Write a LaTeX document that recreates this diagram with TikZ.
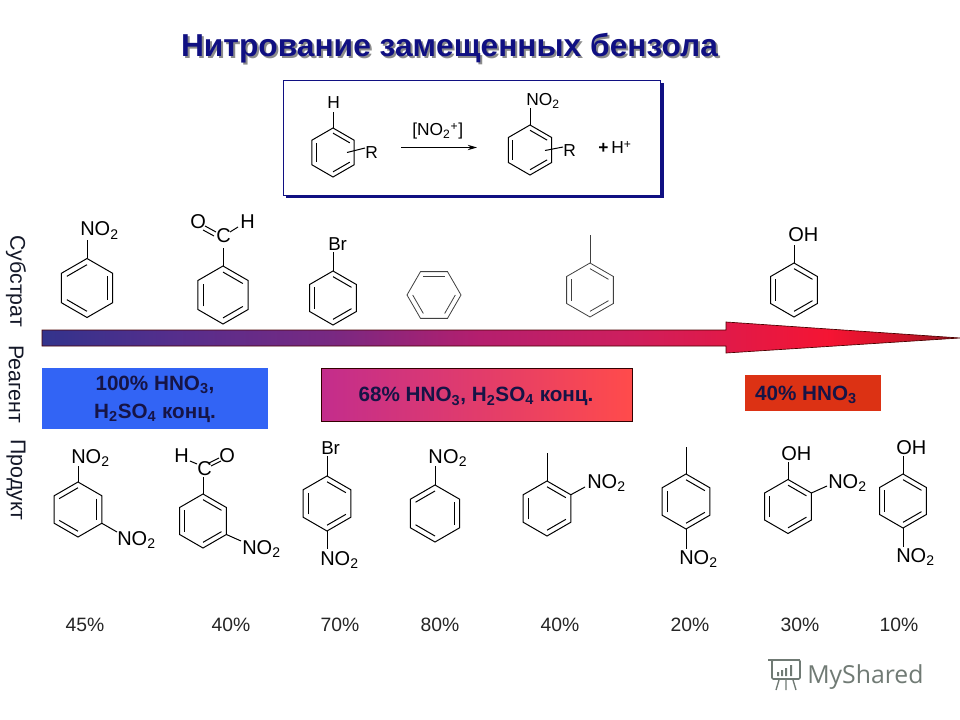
\documentclass[tikz,border=0pt]{standalone}
\usepackage{fontspec}
\setmainfont{Liberation Sans}
\newfontfamily\wmfont{Open Sans}
\usetikzlibrary{calc,arrows.meta}
\definecolor{ink}{RGB}{20,24,40}
\definecolor{navy}{RGB}{16,16,130}
\definecolor{boxtext}{RGB}{22,20,70}
\definecolor{wm}{RGB}{112,122,116}
\pgfdeclarehorizontalshading{arrowgrad}{100bp}{
 rgb(0bp)=(0.2,0.2,0.55);
 rgb(25bp)=(0.2,0.2,0.55);
 rgb(32bp)=(0.33,0.18,0.55);
 rgb(40.7bp)=(0.47,0.16,0.51);
 rgb(48.9bp)=(0.71,0.12,0.43);
 rgb(56.5bp)=(0.80,0.12,0.37);
 rgb(67.9bp)=(0.96,0.08,0.20);
 rgb(72bp)=(0.80,0.08,0.16);
 rgb(75bp)=(0.55,0.08,0.12);
 rgb(100bp)=(0.55,0.08,0.12)}
\tikzset{
 x=0.75pt,y=-0.75pt,
 ringline/.style={black,line width=0.75pt,line join=miter},
 thinring/.style={black!75,line width=0.6pt},
 chem/.style={anchor=base west,inner sep=0pt,text=black,font=\fontsize{15}{17}\selectfont},
 chemsmall/.style={chem,font=\fontsize{13}{15}\selectfont},
 pct/.style={anchor=center,inner sep=0pt,text=black!85,font=\fontsize{14.5}{16}\selectfont},
 side/.style={anchor=center,inner sep=0pt,rotate=-90,text=ink,font=\fontsize{16}{18}\selectfont},
 boxlabel/.style={anchor=center,inner sep=0pt,align=center,text=boxtext,font=\fontsize{15.5}{19}\selectfont\bfseries},
}
\newcommand\hexring[7]{%
 \coordinate (#1) at (#2,#3);
 \foreach \i in {0,...,5}{\coordinate (#1-\i) at ($(#2,#3)+({#5+60*\i}:#4)$);}
 \draw[#7] (#1-0)--(#1-1)--(#1-2)--(#1-3)--(#1-4)--(#1-5)--cycle;
 \foreach \e in {#6}{\pgfmathtruncatemacro\nx{mod(\e+1,6)}
  \draw[#7] ($(#1)!0.79!(#1-\e)$)--($(#1)!0.79!(#1-\nx)$);}
}
\newcommand\stick[5][ringline]{% style, name of end, from, x, y
 \coordinate (#2) at (#4,#5); \draw[#1] (#3)--(#2);}
\newcommand\chemno{NO\textsubscript{2}}
\begin{document}
\begin{tikzpicture}
\useasboundingbox (0,0) rectangle (960,720);
\fill[white] (0,0) rectangle (960,720);
% title
\node[anchor=center,inner sep=0pt,text=black!45,font=\fontsize{23.8}{28}\selectfont\bfseries] (titleshadow) at (451.5,50) {Нитрование замещенных бензола};
\node[anchor=center,inner sep=0pt,text=navy,font=\fontsize{23.8}{28}\selectfont\bfseries] (title) at (449.5,48) {Нитрование замещенных бензола};
% reaction box
\fill[navy] (286,83) rectangle (664,198);
\draw[navy,line width=0.7pt,fill=white] (283,80) rectangle (660,195);
\hexring{ra}{333}{152.5}{24.5}{-90}{0,2,4}{ringline}
\node[chemsmall] (raH) at (327,109) {H};
\stick{raHe}{ra-0}{333}{112}
\node[chemsmall] (raR) at (365,159) {R};
\coordinate (rab) at (347,152.5); \coordinate (rac) at (365,148); \draw[ringline] (rab)--(rac);
\node[chemsmall] (rcond) at (412,136) {[NO\textsubscript{2}\textsuperscript{+}]};
\coordinate (rs) at (401,147.5); \coordinate (re) at (477,147.5);
\draw[ringline,-{Stealth[length=7pt,width=4pt]}] (rs)--(re);
\hexring{rb}{530}{150}{25}{-90}{0,2,4}{ringline}
\node[chemsmall] (rbN) at (526,106) {\chemno};
\stick{rbNe}{rb-0}{530}{108}
\node[chemsmall] (rbR) at (563,157) {R};
\coordinate (rbb) at (545,150.5); \coordinate (rbc) at (563,147); \draw[ringline] (rbb)--(rbc);
\node[chemsmall] (plusH) at (598,154) {\textbf{+}\,H\textsuperscript{+}};
% substrate row
\hexring{s1}{87}{288}{29.5}{-90}{5,1,3}{ringline}
\node[chem] (s1N) at (80,236) {\chemno};
\stick{s1e}{s1-0}{87}{240}
\hexring{s2}{223}{295}{29}{-90}{0,2,4}{ringline}
\node[chem] (s2C) at (216,243) {C};
\node[chem] (s2O) at (190,229) {O};
\node[chem] (s2H) at (240,229) {H};
\stick{s2e}{s2-0}{223}{248}
\coordinate (s2a) at (205,226); \coordinate (s2b) at (216,232); \coordinate (s2c) at (203,230); \coordinate (s2d) at (214,236);
\draw[ringline] (s2a)--(s2b); \draw[ringline] (s2c)--(s2d);
\coordinate (s2f) at (230,232); \coordinate (s2g) at (238,227); \draw[ringline] (s2f)--(s2g);
\hexring{s3}{333}{298}{27}{-90}{0,2,4}{ringline}
\node[chem,font=\fontsize{14}{16}\selectfont] (s3B) at (328,251) {Br};
\stick{s3e}{s3-0}{333}{252}
\hexring{s4}{434}{295}{27}{0}{0,2,4}{thinring}
\hexring{s5}{590}{290}{27}{-90}{0,2,4}{thinring}
\stick[thinring]{s5e}{s5-0}{590}{235}
\hexring{s6}{794}{290}{27}{-90}{0,2,4}{ringline}
\node[chem] (s6O) at (788,242) {OH};
\stick{s6e}{s6-0}{794}{245}
% big arrow
\shade[shading=arrowgrad,draw=black!70!red,line width=0.5pt] (42,330)--(726,330)--(726,322)--(960,338)--(726,353)--(726,346)--(42,346)--cycle;
% reagents
\fill[fill={rgb,255:red,50;green,100;blue,245}] (42,368) rectangle (268,429);
\node[boxlabel] (reagA) at (155,399) {100\% HNO\textsubscript{3},\\[2pt]H\textsubscript{2}SO\textsubscript{4} конц.};
\shade[left color={rgb,255:red,195;green,45;blue,140},right color={rgb,255:red,255;green,75;blue,75},draw=black!80!red,line width=0.7pt] (321,368) rectangle (632,421);
\node[boxlabel] (reagB) at (476,396.5) {68\% HNO\textsubscript{3}, H\textsubscript{2}SO\textsubscript{4} конц.};
\fill[fill={rgb,255:red,220;green,50;blue,20}] (745,375) rectangle (881,411);
\node[boxlabel] (reagC) at (806,395) {40\% HNO\textsubscript{3}};
% side labels
\node[side] (lblS) at (16,281) {Субстрат};
\node[side] (lblR) at (16,384) {Реагент};
\node[side] (lblP) at (16,480) {Продукт};
% products
\hexring{p1}{78}{509.5}{27.5}{-90}{5,1,3}{ringline}
\node[chem] (p1A) at (71,463) {\chemno};
\stick{p1a}{p1-0}{78}{466}
\node[chem] (p1B) at (117,545) {\chemno};
\stick{p1b}{p1-2}{117}{532}
\hexring{p2}{203}{521}{27}{-90}{0,2,4}{ringline}
\node[chem] (p2C) at (197,475) {C};
\node[chem] (p2H) at (174,462) {H};
\node[chem] (p2O) at (219,462) {O};
\stick{p2a}{p2-0}{203}{477}
\coordinate (p2c) at (209,463); \coordinate (p2d) at (219,458); \draw[ringline] (p2c)--(p2d);
\coordinate (p2e) at (211,466); \coordinate (p2f) at (221,461); \draw[ringline] (p2e)--(p2f);
\coordinate (p2g) at (190,461); \coordinate (p2h) at (197,464); \draw[ringline] (p2g)--(p2h);
\node[chem] (p2N) at (242,554) {\chemno};
\stick{p2b}{p2-2}{241}{541}
\hexring{p3}{327}{503.5}{27.5}{-90}{0,2,4}{ringline}
\node[chem,font=\fontsize{14}{16}\selectfont] (p3B) at (321,454) {Br};
\stick{p3a}{p3-0}{327}{456}
\node[chem] (p3N) at (320,565) {\chemno};
\stick{p3b}{p3-3}{327}{549}
\hexring{p4}{435}{513.5}{28.5}{-90}{5,1,3}{ringline}
\node[chem] (p4N) at (428,463) {N\kern0.4pt O\textsubscript{2}};
\stick{p4a}{p4-0}{435}{466}
\hexring{p5}{547}{508.5}{27.5}{-90}{0,2,4}{ringline}
\stick{p5a}{p5-0}{547}{453}
\node[chem] (p5N) at (587,488) {\chemno};
\stick{p5b}{p5-1}{585}{487}
\hexring{p6}{686}{501.5}{27.5}{-90}{0,2,4}{ringline}
\stick{p6a}{p6-0}{686}{447}
\node[chem] (p6N) at (679,564) {\chemno};
\stick{p6b}{p6-3}{686}{549}
\hexring{p7}{788}{506.5}{27}{-90}{0,2,4}{ringline}
\node[chem] (p7O) at (781,460) {OH};
\stick{p7a}{p7-0}{788}{462}
\node[chem] (p7N) at (828,488) {\chemno};
\stick{p7b}{p7-1}{827}{486}
\hexring{p8}{903}{501}{27}{-90}{0,2,4}{ringline}
\node[chem] (p8O) at (896,454) {OH};
\stick{p8a}{p8-0}{903}{456}
\node[chem] (p8N) at (896,562) {\chemno};
\stick{p8b}{p8-3}{903}{547}
% yields
\node[pct] (y1) at (85,625) {45\%};
\node[pct] (y2) at (231,625) {40\%};
\node[pct] (y3) at (340,625) {70\%};
\node[pct] (y4) at (440,625) {80\%};
\node[pct] (y5) at (560,625) {40\%};
\node[pct] (y6) at (690,625) {20\%};
\node[pct] (y7) at (800,625) {30\%};
\node[pct] (y8) at (899,625) {10\%};
% watermark
\node[anchor=base west,inner sep=0pt,text=wm,font=\wmfont\fontsize{18.6}{20}\selectfont] (wmark) at (807,683) {MyShared};
\draw[wm,line width=1.2pt,rounded corners=1pt] (772,660) rectangle (800,679);
\draw[wm,line width=1.2pt] (768,660)--(800,660);
\fill[wm] (777,672) rectangle (779,676) (781,670) rectangle (783,676) (785,668) rectangle (787,676) (790,665) rectangle (792,676);
\draw[wm,line width=1pt] (779,680)--(776,690) (786,680)--(786,690) (793,680)--(796,690);
\end{tikzpicture}
\end{document}
